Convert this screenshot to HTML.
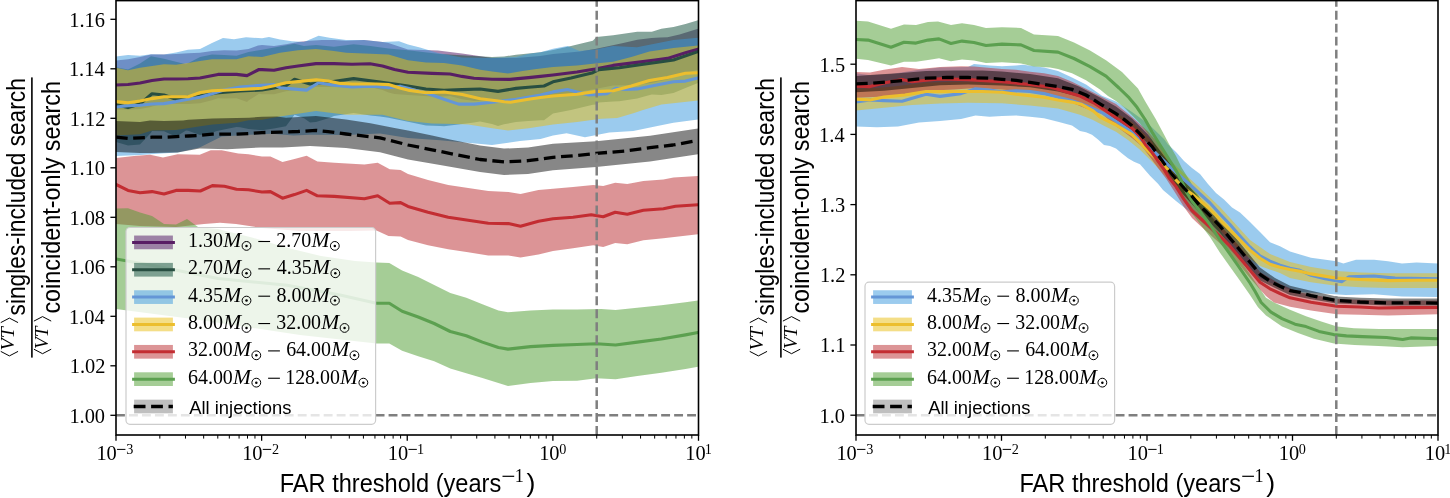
<!DOCTYPE html><html><head><meta charset="utf-8"><style>html,body{margin:0;padding:0;background:#fff;overflow:hidden;}svg{display:block;will-change:transform;}</style></head><body>
<svg width="1450" height="498" viewBox="0 0 1450 498">
<rect width="1450" height="498" fill="#fff"/>
<clipPath id="cl"><rect x="116.00" y="0.5" width="582.50" height="434.5"/></clipPath>
<g clip-path="url(#cl)">
<polygon points="116.0,60.5 128.0,59.3 140.0,57.0 151.0,54.5 164.0,54.5 176.0,53.9 188.0,53.3 200.0,52.7 212.0,50.9 224.0,50.3 236.5,50.5 248.5,49.1 258.0,45.5 262.0,44.9 274.0,46.1 286.0,44.3 298.0,41.9 310.0,40.7 322.0,40.1 334.0,40.1 346.0,40.7 364.0,40.1 382.5,41.9 388.5,43.1 408.0,49.5 438.0,50.5 462.0,53.5 474.0,55.3 492.0,58.0 516.0,58.0 540.0,56.0 553.0,54.0 579.7,51.4 595.0,48.9 609.2,46.1 623.2,42.9 637.3,39.8 651.4,38.0 660.0,37.6 667.5,37.2 679.5,34.5 698.0,28.7 698.0,69.7 685.5,73.0 679.5,74.8 667.5,79.6 660.0,81.1 655.0,82.2 651.4,83.0 637.3,84.9 637.0,84.9 623.2,85.3 613.0,85.6 609.2,86.2 595.0,89.1 579.7,91.7 577.0,92.3 553.0,96.0 540.5,96.9 540.0,96.9 528.5,98.2 516.0,99.6 510.0,100.8 492.0,100.4 474.0,101.1 462.0,99.3 450.0,96.0 438.0,96.7 432.0,96.5 408.0,94.9 394.5,94.1 388.5,92.5 382.5,90.1 370.0,86.9 364.0,87.8 352.0,87.9 346.0,87.3 334.0,87.1 322.0,87.1 316.0,86.8 310.0,88.1 298.0,90.1 286.0,91.3 274.0,94.3 262.0,94.3 259.0,93.7 258.0,94.5 248.5,100.6 247.0,101.9 236.5,98.3 224.0,98.5 218.0,98.2 212.0,100.3 200.0,103.3 188.0,104.1 176.0,104.1 164.0,103.5 152.0,106.5 151.0,106.9 140.0,109.0 128.0,109.7 116.0,109.5" fill="#4b0f60" fill-opacity="0.5" stroke="none"/>
<polygon points="116.0,67.2 128.0,69.6 140.0,63.6 151.0,56.3 164.0,58.7 176.0,61.7 186.0,64.2 200.0,57.0 212.0,54.5 224.0,55.1 236.5,55.7 248.5,52.1 262.0,49.7 294.5,43.7 304.0,46.1 316.0,44.9 334.0,46.7 353.6,44.3 370.4,46.1 388.5,48.5 408.0,50.3 440.0,54.0 474.0,56.0 492.0,57.1 504.0,56.5 516.0,54.7 528.5,53.5 540.5,52.3 553.0,50.0 571.0,46.0 592.8,40.7 596.4,37.1 613.2,35.3 637.3,31.7 651.8,31.7 661.4,28.7 673.5,26.9 685.5,23.9 698.0,20.2 698.0,83.0 685.5,87.9 673.5,93.1 661.4,94.9 651.8,94.5 643.4,96.7 637.3,98.5 619.3,101.2 613.2,101.4 598.8,102.4 596.4,104.6 592.8,104.7 571.0,110.0 553.0,113.6 544.0,120.3 540.5,120.2 528.5,120.9 516.0,122.1 504.0,124.3 498.0,126.0 492.0,124.1 480.0,121.6 474.0,122.4 462.0,123.9 444.0,126.2 440.0,125.9 426.0,125.6 408.0,121.7 394.5,118.9 388.5,117.8 380.0,116.6 370.4,115.4 353.6,112.9 334.0,116.1 330.0,117.7 316.0,121.9 310.0,122.5 304.0,118.2 294.5,114.7 286.0,126.3 274.0,128.5 262.0,130.3 248.5,129.1 240.0,127.3 236.5,126.9 224.0,129.6 216.0,131.3 212.0,133.0 200.0,135.0 188.0,130.8 186.0,130.5 176.0,136.7 164.0,131.3 152.0,130.9 151.0,132.8 140.0,144.4 128.0,145.6 116.0,142.0" fill="#0d4c38" fill-opacity="0.5" stroke="none"/>
<polygon points="116.0,56.6 128.0,54.9 140.0,55.7 151.0,54.2 164.0,54.5 176.0,52.5 188.0,49.7 200.0,49.1 212.0,43.1 223.0,38.0 234.0,39.2 246.0,37.3 262.0,38.3 269.0,37.0 280.0,39.5 292.0,41.3 304.0,41.9 318.6,35.8 329.5,37.7 346.0,40.1 364.0,40.1 382.5,41.9 399.0,41.3 408.0,44.5 420.0,47.5 438.0,53.0 462.0,57.5 492.0,58.0 516.0,57.0 528.0,54.0 540.5,52.3 553.0,48.7 567.5,46.1 579.5,51.0 595.0,49.5 613.0,46.1 637.0,47.3 652.0,44.3 673.5,40.1 698.0,37.7 698.0,119.6 673.4,122.8 657.4,126.0 633.3,130.9 609.2,132.5 585.0,137.3 566.6,133.3 553.0,135.4 540.5,139.0 520.0,141.0 492.0,145.0 470.0,143.0 440.0,140.2 408.0,138.0 380.0,133.6 346.0,135.0 310.0,134.8 293.5,135.4 271.4,133.7 249.3,134.8 221.7,136.5 199.7,147.5 177.6,152.5 161.0,153.5 140.0,155.0 116.0,156.0" fill="#3797dd" fill-opacity="0.5" stroke="none"/>
<polygon points="116.0,67.8 128.0,70.2 140.0,67.8 152.0,66.0 164.0,64.2 176.0,64.8 188.0,63.0 200.0,61.1 212.0,59.3 236.5,59.3 248.5,56.3 262.0,56.9 280.0,52.7 298.0,50.3 316.0,49.1 334.0,50.9 346.3,52.7 358.4,53.3 376.5,53.9 388.5,54.5 408.0,60.3 426.0,62.5 444.0,63.1 462.0,65.5 480.3,69.8 492.3,71.6 508.0,73.4 522.5,71.0 534.5,69.2 553.0,67.0 577.0,65.4 595.0,63.6 613.0,61.8 631.3,57.0 649.4,51.6 673.5,48.0 698.0,45.5 698.0,100.4 661.4,104.6 643.0,110.0 633.3,113.2 617.2,118.0 601.0,118.8 577.0,122.0 553.0,124.6 528.5,128.2 508.0,130.6 492.3,128.2 468.2,124.6 456.2,124.0 432.0,123.4 408.0,121.0 382.5,114.8 346.3,114.8 316.0,111.1 280.0,116.6 262.0,119.7 248.5,120.3 236.5,122.7 212.4,124.5 200.3,126.3 176.0,130.0 152.0,130.5 140.0,134.2 116.0,135.4" fill="#e9bd0f" fill-opacity="0.5" stroke="none"/>
<polygon points="116.0,157.9 134.0,156.0 150.0,154.7 163.0,157.5 177.6,154.2 199.7,154.7 210.7,150.3 221.7,150.3 238.3,153.6 248.5,154.3 262.0,156.6 270.4,156.6 282.5,162.0 294.5,159.0 306.6,155.8 317.4,161.4 334.3,162.7 364.4,164.5 377.7,162.7 389.7,169.3 400.6,169.9 408.0,174.0 428.0,180.0 448.2,185.0 468.2,188.1 488.3,191.1 508.4,192.1 520.5,194.1 538.5,190.1 553.0,188.8 573.0,187.1 593.2,185.1 603.2,186.1 615.2,182.7 627.3,184.1 643.4,181.0 663.4,179.5 673.5,177.4 698.0,176.0 698.0,234.3 663.4,238.3 643.4,240.3 627.3,244.3 615.2,242.9 603.2,246.9 593.2,245.3 573.0,248.3 553.0,251.0 538.5,254.4 520.5,257.4 508.4,255.4 488.3,255.4 468.2,252.3 448.2,249.3 428.0,245.3 408.0,240.0 400.6,236.6 388.5,236.0 376.5,230.5 350.0,231.0 300.0,231.0 262.0,228.0 236.0,224.0 220.0,222.7 204.0,224.0 176.0,227.0 140.0,226.0 116.0,224.0" fill="#b9292d" fill-opacity="0.5" stroke="none"/>
<polygon points="116.0,208.5 128.0,208.3 140.0,212.5 152.0,216.1 164.0,223.9 176.0,224.5 187.0,219.1 198.0,227.0 218.0,229.0 252.0,237.5 287.0,247.8 321.0,256.0 355.0,261.0 376.4,262.5 389.3,263.1 402.1,270.5 418.2,276.9 434.2,285.0 450.3,293.0 466.3,297.8 482.4,304.2 498.4,310.6 508.0,312.2 530.5,310.6 553.0,309.5 577.1,309.4 601.2,308.9 615.6,310.1 637.3,307.7 661.4,305.3 685.5,302.2 698.0,300.5 698.0,366.7 685.5,369.1 661.4,372.7 637.3,375.9 615.6,379.2 596.4,378.3 577.1,380.7 553.0,381.1 530.5,382.9 508.0,386.1 498.4,382.9 482.4,378.0 466.3,373.2 450.3,368.4 434.2,361.3 418.2,356.2 402.1,350.8 389.3,343.4 376.4,343.4 300.0,335.0 200.0,320.0 116.0,309.0" fill="#4b9b2d" fill-opacity="0.5" stroke="none"/>
<polygon points="116.0,121.0 140.0,122.1 150.0,120.5 164.0,121.0 183.0,120.5 188.3,119.7 212.4,118.5 236.5,117.9 249.0,117.7 262.0,116.7 277.0,116.6 286.0,117.8 316.0,116.0 346.0,119.6 370.4,123.2 394.5,128.0 408.0,130.6 432.0,135.4 450.0,139.6 480.0,145.5 504.0,148.6 528.0,147.5 553.0,143.7 596.0,141.3 650.0,135.7 698.0,128.5 698.0,154.2 650.0,161.4 596.0,167.0 553.0,170.2 528.0,174.0 504.0,175.0 480.0,172.0 440.0,165.0 408.0,159.5 380.0,152.3 346.0,148.0 310.0,145.9 282.5,147.5 260.4,147.5 227.3,149.2 199.7,148.6 177.6,152.5 150.0,153.0 140.0,153.0 116.0,152.0" fill="#000000" fill-opacity="0.47" stroke="none"/>
<polyline points="116.0,85.0 128.0,84.5 140.0,83.0 152.0,80.5 164.0,79.0 176.0,79.0 188.0,78.7 200.0,78.0 218.0,74.4 236.5,74.4 247.0,75.6 259.0,69.5 262.0,69.6 274.0,70.2 286.0,67.8 298.0,66.0 316.0,63.6 334.0,63.6 352.0,64.2 370.0,63.8 382.5,66.0 394.5,69.6 408.0,72.2 432.0,73.4 450.0,74.0 462.0,76.4 474.0,78.2 492.0,79.2 510.0,79.4 528.5,77.6 540.5,76.4 553.0,75.0 577.0,72.0 595.0,69.0 613.0,65.4 637.0,62.4 655.0,60.0 667.5,58.4 685.5,52.8 698.0,49.2" fill="none" stroke="#581e64" stroke-width="3.10" stroke-linejoin="round" stroke-linecap="round"/>
<polyline points="116.0,104.6 128.0,107.6 140.0,104.0 152.0,93.7 164.0,95.0 176.0,99.2 188.0,97.0 200.0,96.0 216.0,93.0 240.0,91.0 262.0,90.0 274.0,88.0 286.0,85.8 294.5,79.2 310.0,84.0 330.0,82.0 353.6,78.6 380.0,82.0 394.5,84.0 408.0,86.0 426.0,89.0 444.0,90.2 462.0,89.6 480.0,89.0 498.0,91.4 516.0,88.4 528.5,87.2 544.0,86.0 553.0,81.8 571.0,78.0 592.8,72.7 598.8,69.6 619.3,67.8 643.4,64.2 661.4,61.8 673.5,60.0 698.0,51.6" fill="none" stroke="#284e41" stroke-width="3.10" stroke-linejoin="round" stroke-linecap="round"/>
<polyline points="116.0,107.0 128.0,105.8 140.0,105.2 152.0,104.0 164.0,103.6 176.0,101.6 188.0,99.2 200.0,97.3 212.0,93.7 224.0,90.0 240.0,87.0 262.0,85.2 274.0,84.6 280.0,87.7 292.0,88.9 306.6,90.1 318.6,82.8 334.0,85.2 352.0,87.0 364.0,86.4 376.5,86.4 388.5,87.7 400.6,86.4 408.0,88.3 432.0,95.0 444.0,99.3 458.6,104.1 474.3,104.1 492.3,102.3 516.4,99.3 540.5,95.0 553.0,91.9 567.5,89.5 577.0,91.9 589.0,95.0 607.0,93.7 615.7,88.3 625.3,89.5 637.3,88.9 655.4,85.3 673.5,81.7 685.5,81.1 698.0,78.0" fill="none" stroke="#6496d6" stroke-width="3.10" stroke-linejoin="round" stroke-linecap="round"/>
<polyline points="116.0,101.6 128.0,102.8 140.0,101.0 152.0,98.6 164.0,96.7 176.0,96.7 188.3,96.7 200.3,92.5 212.4,90.7 230.0,90.0 262.0,88.3 274.0,85.8 286.0,82.8 298.0,81.6 316.2,79.8 328.3,81.0 340.3,83.4 352.4,84.0 376.5,84.0 388.5,84.6 400.6,88.3 408.0,90.1 426.0,92.7 444.0,92.0 462.2,94.5 480.3,98.7 504.4,101.7 510.4,102.3 528.5,99.3 540.5,97.5 553.0,96.0 577.0,94.3 595.0,91.6 613.2,90.7 631.3,85.9 649.4,80.5 667.5,77.5 685.5,73.3 698.0,72.7" fill="none" stroke="#ecbe2d" stroke-width="3.10" stroke-linejoin="round" stroke-linecap="round"/>
<polyline points="116.0,184.4 128.0,190.4 140.0,192.8 152.0,191.6 164.0,194.0 176.0,190.4 188.0,190.4 200.3,191.0 212.4,185.6 224.4,186.2 236.5,189.2 248.5,189.8 262.0,192.0 270.4,191.6 282.5,198.2 294.5,194.6 306.6,190.4 317.4,195.8 334.3,196.4 364.4,198.8 377.7,195.8 389.7,203.2 400.6,202.6 408.0,206.4 428.0,212.2 448.2,217.2 468.2,220.2 488.3,223.2 508.4,223.6 520.5,226.2 538.5,221.2 553.0,218.8 573.0,217.2 591.2,214.8 603.2,216.8 615.2,212.2 627.3,214.2 643.4,210.2 663.4,208.8 675.5,206.2 698.0,204.8" fill="none" stroke="#c32d32" stroke-width="3.10" stroke-linejoin="round" stroke-linecap="round"/>
<polyline points="116.0,259.0 150.0,265.0 218.0,278.5 287.0,285.3 340.0,295.0 376.4,303.2 389.3,303.2 402.1,311.3 418.2,317.0 434.2,323.5 450.3,331.5 466.3,335.7 482.4,342.1 498.4,347.5 508.0,349.1 530.5,346.6 553.0,345.4 577.1,344.5 596.4,343.8 615.6,345.0 637.3,342.1 661.4,339.0 685.5,334.9 698.0,332.5" fill="none" stroke="#5ca050" stroke-width="3.10" stroke-linejoin="round" stroke-linecap="round"/>
<polyline points="116.0,137.2 128.0,138.4 140.0,137.8 152.0,137.2 164.2,137.2 176.2,136.6 188.3,136.0 200.3,135.4 212.4,134.2 236.5,134.2 248.5,133.6 262.0,132.6 280.0,132.2 298.0,131.5 316.0,130.4 328.0,131.6 346.0,134.0 380.0,137.8 408.0,145.0 432.0,149.8 456.0,154.7 480.0,159.5 504.0,161.9 528.0,160.7 553.0,157.3 576.6,155.5 596.0,153.4 624.8,151.0 650.0,147.7 672.9,145.0 698.0,140.5" fill="none" stroke="#000" stroke-width="3.30" stroke-dasharray="11.7,5.55" stroke-linejoin="round"/>
<line x1="116.00" y1="415.30" x2="698.50" y2="415.30" stroke="#7f7f7f" stroke-width="2.5" stroke-dasharray="8.9,4.08"/>
<line x1="596.71" y1="435" x2="596.71" y2="0" stroke="#7f7f7f" stroke-width="2.5" stroke-dasharray="8.9,4.08"/>
</g>
<clipPath id="cr"><rect x="856.00" y="0.5" width="582.00" height="434.5"/></clipPath>
<g clip-path="url(#cr)">
<polygon points="856.0,73.2 870.0,75.3 891.0,74.0 919.0,69.7 940.0,67.6 968.0,66.9 974.0,64.1 989.5,65.5 1002.0,66.2 1016.0,65.5 1023.0,64.8 1044.0,67.6 1058.0,71.1 1072.0,77.5 1086.0,84.5 1102.0,95.7 1116.0,101.5 1132.0,112.0 1148.0,123.4 1164.0,139.0 1168.0,144.5 1176.0,152.0 1184.0,160.9 1192.0,168.0 1200.0,174.0 1208.0,184.0 1216.0,193.0 1224.0,199.4 1232.0,207.5 1240.0,212.5 1250.0,222.1 1260.0,232.1 1270.0,242.2 1280.0,246.2 1290.0,251.5 1300.0,254.5 1311.0,257.7 1336.4,261.2 1343.4,263.4 1356.0,259.8 1374.0,259.8 1388.0,261.2 1402.0,263.4 1416.5,262.6 1438.0,263.4 1438.0,297.1 1402.0,296.4 1374.0,294.3 1346.0,295.0 1300.0,292.0 1280.0,287.0 1260.0,278.0 1240.0,260.0 1220.0,240.0 1200.0,220.0 1176.0,201.0 1163.0,190.0 1158.0,183.8 1150.0,175.8 1140.0,164.2 1134.0,161.8 1128.0,158.2 1122.0,153.4 1116.0,148.6 1110.0,146.1 1104.0,144.9 1098.0,139.5 1092.0,134.7 1086.0,132.3 1080.0,131.1 1072.0,125.5 1058.0,121.8 1044.0,118.3 1030.0,116.8 1016.0,115.4 1002.0,116.1 989.5,116.8 975.5,115.4 961.0,118.9 940.0,121.0 919.0,122.4 898.0,126.6 877.0,127.3 856.0,126.6" fill="#3797dd" fill-opacity="0.5" stroke="none"/>
<polygon points="856.0,88.7 877.0,88.0 898.0,85.9 926.0,82.4 954.0,81.7 982.5,81.7 1002.0,83.1 1030.0,85.5 1058.0,89.5 1081.0,94.0 1100.0,105.0 1116.0,113.0 1132.0,122.0 1152.0,141.0 1176.0,166.0 1200.0,188.0 1220.0,207.0 1250.0,240.0 1270.0,254.0 1290.0,262.0 1311.0,266.9 1336.4,271.1 1360.3,272.5 1388.4,273.2 1438.0,273.2 1438.0,287.9 1388.4,287.9 1360.3,287.2 1336.4,285.8 1311.0,282.3 1290.0,278.1 1280.0,273.0 1260.0,266.0 1240.0,251.0 1220.0,230.0 1200.0,209.0 1176.0,188.0 1160.0,170.0 1150.0,159.8 1140.0,149.8 1128.0,140.1 1116.0,131.7 1104.0,125.7 1092.0,119.6 1080.0,114.8 1058.0,108.4 1030.0,105.6 1002.0,103.2 968.0,102.8 940.0,103.5 912.0,104.9 884.0,107.7 856.0,110.5" fill="#e9bd0f" fill-opacity="0.5" stroke="none"/>
<polygon points="856.0,72.0 870.0,72.5 884.0,69.7 902.0,66.9 919.0,69.0 940.0,66.9 961.0,66.2 974.0,66.5 1002.0,69.0 1016.0,69.7 1030.0,71.8 1044.0,73.2 1058.0,76.1 1072.0,81.7 1086.0,88.7 1100.0,96.0 1116.0,104.0 1132.0,117.0 1148.0,131.4 1164.0,150.0 1180.0,177.0 1200.0,205.0 1220.0,225.0 1240.0,247.0 1260.0,272.0 1280.0,284.0 1300.0,292.5 1336.0,299.0 1388.0,300.5 1438.0,300.5 1438.0,314.3 1388.0,315.4 1360.0,314.7 1336.8,314.2 1311.0,310.4 1290.0,306.7 1274.0,302.5 1266.0,296.1 1260.0,289.5 1250.0,278.0 1240.0,265.5 1230.0,253.5 1220.0,243.5 1210.0,234.5 1200.0,225.5 1192.0,218.0 1184.0,207.0 1176.0,194.0 1166.0,178.5 1158.0,168.0 1150.0,157.0 1142.0,146.5 1132.0,138.0 1116.0,126.0 1102.0,114.0 1086.0,108.4 1072.0,102.8 1058.0,97.2 1030.0,92.2 1002.0,89.6 975.5,88.0 954.0,89.4 926.0,90.8 898.0,95.0 884.0,96.4 856.0,97.8" fill="#b9292d" fill-opacity="0.5" stroke="none"/>
<polygon points="856.0,20.8 868.0,21.4 891.0,28.7 904.0,24.5 916.0,25.1 928.0,22.0 938.0,21.4 951.0,25.1 962.0,23.3 974.0,25.1 986.0,28.1 1002.0,27.2 1021.0,28.0 1034.0,34.5 1058.0,36.1 1074.0,42.5 1090.0,50.5 1106.0,60.2 1122.0,72.0 1138.0,88.5 1145.0,100.9 1155.7,119.0 1164.0,134.5 1169.0,144.1 1176.0,156.1 1182.0,168.2 1188.0,177.8 1200.0,198.0 1215.0,222.0 1230.0,246.2 1250.0,274.3 1266.0,297.7 1274.0,302.5 1290.0,309.7 1306.0,316.2 1322.0,321.8 1337.0,326.6 1354.0,328.2 1379.0,329.0 1403.0,329.0 1438.0,329.0 1438.0,345.9 1402.7,347.2 1378.6,345.9 1354.5,345.1 1334.0,343.5 1314.0,338.7 1298.0,333.0 1282.0,326.6 1266.0,315.4 1258.0,307.3 1250.0,295.0 1240.0,280.8 1230.0,266.7 1220.0,252.7 1210.0,237.0 1205.0,230.5 1199.0,222.5 1192.0,213.5 1187.0,205.5 1181.0,192.5 1174.0,180.6 1166.0,167.5 1158.0,153.3 1148.0,134.0 1140.0,123.4 1132.0,115.3 1124.0,107.3 1116.0,100.9 1108.0,96.0 1100.0,89.6 1086.0,80.3 1072.0,73.3 1058.0,69.0 1050.0,67.4 1034.0,66.6 1021.0,63.4 1002.0,62.2 986.0,63.0 974.0,60.6 962.0,59.4 951.0,61.2 939.0,58.2 928.0,60.0 916.0,61.8 904.0,61.8 891.0,65.4 868.0,60.0 856.0,58.8" fill="#4b9b2d" fill-opacity="0.5" stroke="none"/>
<polygon points="856.0,76.0 877.0,74.6 898.0,73.2 926.0,71.1 954.0,70.4 982.5,70.4 1002.0,71.5 1030.0,74.0 1058.0,78.2 1079.0,86.6 1100.0,97.5 1116.0,106.5 1132.0,118.6 1148.0,134.5 1164.0,156.0 1180.0,176.0 1200.0,198.5 1220.0,219.0 1240.0,243.0 1260.0,267.5 1275.0,278.0 1290.0,285.8 1311.0,290.8 1336.4,296.4 1360.3,297.8 1388.4,298.5 1438.0,298.5 1438.0,305.5 1388.4,305.5 1336.4,303.4 1311.0,299.2 1290.0,295.0 1275.0,288.0 1260.0,280.5 1240.0,257.0 1220.0,233.0 1200.0,213.0 1180.0,191.0 1164.0,171.0 1148.0,149.5 1132.0,133.0 1116.0,120.5 1102.0,108.4 1086.0,98.6 1058.0,91.5 1030.0,87.3 1002.0,85.5 968.0,84.5 940.0,85.2 912.0,88.0 884.0,90.8 856.0,92.2" fill="#000000" fill-opacity="0.47" stroke="none"/>
<polyline points="856.0,102.0 870.0,99.9 884.0,100.6 902.0,101.3 926.0,94.3 940.0,96.4 961.0,93.6 975.5,88.7 989.5,90.1 1002.0,91.8 1016.0,90.8 1030.0,91.5 1044.0,93.6 1058.0,97.2 1072.0,100.7 1086.0,105.6 1102.0,112.6 1116.0,121.0 1132.0,132.0 1148.0,146.0 1164.0,161.0 1176.0,172.5 1192.0,186.5 1200.0,194.0 1210.0,203.0 1220.0,214.0 1230.0,224.5 1240.0,236.0 1250.0,247.0 1260.0,256.0 1270.0,261.2 1280.0,265.3 1290.0,268.3 1300.0,270.3 1311.0,275.3 1325.0,278.8 1342.0,281.6 1349.0,276.7 1374.0,276.0 1395.0,278.1 1438.0,278.8" fill="none" stroke="#6496d6" stroke-width="3.10" stroke-linejoin="round" stroke-linecap="round"/>
<polyline points="856.0,99.2 870.0,99.9 884.0,97.1 905.0,95.0 926.0,91.5 954.0,91.5 982.5,91.5 1002.0,92.2 1016.0,94.3 1030.0,95.7 1044.0,97.2 1058.0,100.0 1072.0,102.1 1081.0,104.2 1093.5,111.2 1100.0,117.0 1116.0,125.0 1132.0,134.6 1140.0,142.5 1146.0,148.9 1152.0,154.9 1166.5,168.2 1171.3,173.0 1176.0,180.0 1184.0,188.2 1192.0,194.0 1200.0,200.5 1208.0,207.5 1216.0,215.5 1220.0,220.1 1230.0,230.1 1240.0,240.2 1250.0,250.2 1260.0,258.2 1270.0,264.3 1280.0,267.3 1290.0,269.5 1300.0,271.3 1311.0,273.9 1336.4,278.1 1360.3,279.5 1388.4,280.6 1416.5,280.2 1438.0,280.2" fill="none" stroke="#ecbe2d" stroke-width="3.10" stroke-linejoin="round" stroke-linecap="round"/>
<polyline points="856.0,86.2 870.0,86.6 884.0,83.1 902.0,79.6 912.0,81.7 926.0,80.3 940.0,78.9 968.0,79.6 1002.0,81.7 1030.0,84.5 1051.0,87.3 1065.0,91.5 1079.0,95.7 1093.5,102.8 1100.0,107.0 1116.0,117.8 1132.0,128.2 1140.0,136.5 1146.0,145.3 1152.0,152.5 1158.0,161.0 1164.0,169.4 1169.0,177.8 1176.0,186.6 1184.0,199.4 1192.0,210.5 1200.0,218.0 1210.0,227.0 1220.0,236.1 1230.0,246.2 1240.0,258.2 1250.0,270.3 1260.0,282.3 1270.0,288.8 1280.0,293.5 1290.0,297.8 1311.0,302.3 1336.8,306.3 1360.0,307.0 1378.6,308.0 1402.0,307.6 1438.0,307.5" fill="none" stroke="#c32d32" stroke-width="3.10" stroke-linejoin="round" stroke-linecap="round"/>
<polyline points="856.0,39.5 868.0,40.1 891.0,47.3 904.0,42.3 916.0,43.1 928.0,40.1 939.0,38.9 951.0,43.5 962.0,41.1 974.0,42.5 986.0,45.5 1002.0,44.1 1021.0,44.9 1034.0,50.5 1058.0,52.1 1074.0,58.5 1090.0,66.6 1106.0,76.2 1119.0,88.0 1129.0,97.7 1137.0,107.3 1145.4,120.0 1152.0,132.0 1158.0,141.7 1164.0,151.3 1170.0,161.0 1176.0,170.6 1181.0,180.0 1187.0,193.0 1192.0,201.0 1199.0,210.0 1205.0,218.0 1210.0,224.5 1220.0,240.2 1230.0,254.2 1240.0,268.3 1250.0,283.0 1255.0,291.2 1261.2,302.5 1271.0,312.1 1282.0,318.6 1295.0,324.2 1306.0,326.6 1319.0,331.4 1333.6,334.6 1346.4,335.9 1362.5,336.6 1386.6,337.5 1402.7,339.5 1410.7,337.9 1438.0,338.7" fill="none" stroke="#5ca050" stroke-width="3.10" stroke-linejoin="round" stroke-linecap="round"/>
<polyline points="856.0,83.8 873.0,83.1 891.0,81.7 905.0,80.3 926.0,78.2 947.0,77.5 968.0,77.5 989.5,78.2 1002.0,79.3 1016.0,80.3 1030.0,82.4 1044.0,84.5 1058.0,86.6 1072.0,89.4 1086.0,95.0 1100.0,103.8 1108.0,108.9 1116.0,113.7 1124.0,119.4 1132.0,125.8 1140.0,133.8 1146.0,140.5 1152.0,146.5 1158.0,154.9 1164.0,163.4 1170.0,171.8 1176.0,179.2 1184.0,188.2 1192.0,196.2 1200.0,205.9 1210.0,215.5 1220.0,226.1 1230.0,238.2 1240.0,250.2 1250.0,262.2 1260.0,274.3 1270.0,281.3 1280.0,286.3 1290.0,290.6 1300.0,292.4 1311.0,295.7 1336.4,300.4 1360.0,302.0 1388.0,303.0 1416.5,302.7 1438.0,303.2" fill="none" stroke="#000" stroke-width="3.30" stroke-dasharray="11.7,5.55" stroke-linejoin="round"/>
<line x1="856.00" y1="415.20" x2="1438.00" y2="415.20" stroke="#7f7f7f" stroke-width="2.5" stroke-dasharray="8.9,4.08"/>
<line x1="1336.30" y1="435" x2="1336.30" y2="0" stroke="#7f7f7f" stroke-width="2.5" stroke-dasharray="8.9,4.08"/>
</g>
<rect x="126.00" y="227.50" width="249.60" height="196.80" rx="4" ry="4" fill="#fff" fill-opacity="0.8" stroke="#cccccc" stroke-width="1.2"/>
<rect x="134.10" y="235.55" width="38.8" height="13.7" fill="#4b0f60" fill-opacity="0.5"/>
<line x1="133.60" y1="242.40" x2="173.40" y2="242.40" stroke="#581e64" stroke-width="3.0" stroke-linecap="square"/>
<text x="188.00" y="246.80" font-size="20.40" font-family='"Liberation Serif", serif' textLength="35.00" lengthAdjust="spacingAndGlyphs" fill="#000">1.30</text>
<text x="223.25" y="246.80" font-size="20.40" font-family='"Liberation Serif", serif' font-style="italic" textLength="17.96" lengthAdjust="spacingAndGlyphs" fill="#000">M</text>
<circle cx="246.50" cy="245.90" r="4.40" fill="none" stroke="#000" stroke-width="1.0"/><circle cx="246.50" cy="245.90" r="1.25" fill="#000"/>
<line x1="258.30" y1="241.50" x2="270.10" y2="241.50" stroke="#000" stroke-width="1.1"/>
<text x="276.32" y="246.80" font-size="20.40" font-family='"Liberation Serif", serif' textLength="35.00" lengthAdjust="spacingAndGlyphs" fill="#000">2.70</text>
<text x="311.57" y="246.80" font-size="20.40" font-family='"Liberation Serif", serif' font-style="italic" textLength="17.96" lengthAdjust="spacingAndGlyphs" fill="#000">M</text>
<circle cx="334.82" cy="245.90" r="4.40" fill="none" stroke="#000" stroke-width="1.0"/><circle cx="334.82" cy="245.90" r="1.25" fill="#000"/>
<rect x="134.10" y="262.90" width="38.8" height="13.7" fill="#0d4c38" fill-opacity="0.5"/>
<line x1="133.60" y1="269.75" x2="173.40" y2="269.75" stroke="#284e41" stroke-width="3.0" stroke-linecap="square"/>
<text x="188.00" y="274.15" font-size="20.40" font-family='"Liberation Serif", serif' textLength="35.00" lengthAdjust="spacingAndGlyphs" fill="#000">2.70</text>
<text x="223.25" y="274.15" font-size="20.40" font-family='"Liberation Serif", serif' font-style="italic" textLength="17.96" lengthAdjust="spacingAndGlyphs" fill="#000">M</text>
<circle cx="246.50" cy="273.25" r="4.40" fill="none" stroke="#000" stroke-width="1.0"/><circle cx="246.50" cy="273.25" r="1.25" fill="#000"/>
<line x1="258.30" y1="268.85" x2="270.10" y2="268.85" stroke="#000" stroke-width="1.1"/>
<text x="276.81" y="274.15" font-size="20.40" font-family='"Liberation Serif", serif' textLength="35.00" lengthAdjust="spacingAndGlyphs" fill="#000">4.35</text>
<text x="312.06" y="274.15" font-size="20.40" font-family='"Liberation Serif", serif' font-style="italic" textLength="17.96" lengthAdjust="spacingAndGlyphs" fill="#000">M</text>
<circle cx="335.31" cy="273.25" r="4.40" fill="none" stroke="#000" stroke-width="1.0"/><circle cx="335.31" cy="273.25" r="1.25" fill="#000"/>
<rect x="134.10" y="290.25" width="38.8" height="13.7" fill="#3797dd" fill-opacity="0.5"/>
<line x1="133.60" y1="297.10" x2="173.40" y2="297.10" stroke="#6496d6" stroke-width="3.0" stroke-linecap="square"/>
<text x="188.00" y="301.50" font-size="20.40" font-family='"Liberation Serif", serif' textLength="35.00" lengthAdjust="spacingAndGlyphs" fill="#000">4.35</text>
<text x="223.25" y="301.50" font-size="20.40" font-family='"Liberation Serif", serif' font-style="italic" textLength="17.96" lengthAdjust="spacingAndGlyphs" fill="#000">M</text>
<circle cx="246.50" cy="300.60" r="4.40" fill="none" stroke="#000" stroke-width="1.0"/><circle cx="246.50" cy="300.60" r="1.25" fill="#000"/>
<line x1="258.30" y1="296.20" x2="270.10" y2="296.20" stroke="#000" stroke-width="1.1"/>
<text x="276.44" y="301.50" font-size="20.40" font-family='"Liberation Serif", serif' textLength="35.00" lengthAdjust="spacingAndGlyphs" fill="#000">8.00</text>
<text x="311.69" y="301.50" font-size="20.40" font-family='"Liberation Serif", serif' font-style="italic" textLength="17.96" lengthAdjust="spacingAndGlyphs" fill="#000">M</text>
<circle cx="334.94" cy="300.60" r="4.40" fill="none" stroke="#000" stroke-width="1.0"/><circle cx="334.94" cy="300.60" r="1.25" fill="#000"/>
<rect x="134.10" y="317.60" width="38.8" height="13.7" fill="#e9bd0f" fill-opacity="0.5"/>
<line x1="133.60" y1="324.45" x2="173.40" y2="324.45" stroke="#ecbe2d" stroke-width="3.0" stroke-linecap="square"/>
<text x="188.00" y="328.85" font-size="20.40" font-family='"Liberation Serif", serif' textLength="35.00" lengthAdjust="spacingAndGlyphs" fill="#000">8.00</text>
<text x="223.25" y="328.85" font-size="20.40" font-family='"Liberation Serif", serif' font-style="italic" textLength="17.96" lengthAdjust="spacingAndGlyphs" fill="#000">M</text>
<circle cx="246.50" cy="327.95" r="4.40" fill="none" stroke="#000" stroke-width="1.0"/><circle cx="246.50" cy="327.95" r="1.25" fill="#000"/>
<line x1="258.30" y1="323.55" x2="270.10" y2="323.55" stroke="#000" stroke-width="1.1"/>
<text x="276.25" y="328.85" font-size="20.40" font-family='"Liberation Serif", serif' textLength="44.80" lengthAdjust="spacingAndGlyphs" fill="#000">32.00</text>
<text x="321.30" y="328.85" font-size="20.40" font-family='"Liberation Serif", serif' font-style="italic" textLength="17.96" lengthAdjust="spacingAndGlyphs" fill="#000">M</text>
<circle cx="344.55" cy="327.95" r="4.40" fill="none" stroke="#000" stroke-width="1.0"/><circle cx="344.55" cy="327.95" r="1.25" fill="#000"/>
<rect x="134.10" y="344.95" width="38.8" height="13.7" fill="#b9292d" fill-opacity="0.5"/>
<line x1="133.60" y1="351.80" x2="173.40" y2="351.80" stroke="#c32d32" stroke-width="3.0" stroke-linecap="square"/>
<text x="188.00" y="356.20" font-size="20.40" font-family='"Liberation Serif", serif' textLength="44.80" lengthAdjust="spacingAndGlyphs" fill="#000">32.00</text>
<text x="233.05" y="356.20" font-size="20.40" font-family='"Liberation Serif", serif' font-style="italic" textLength="17.96" lengthAdjust="spacingAndGlyphs" fill="#000">M</text>
<circle cx="256.30" cy="355.30" r="4.40" fill="none" stroke="#000" stroke-width="1.0"/><circle cx="256.30" cy="355.30" r="1.25" fill="#000"/>
<line x1="268.10" y1="350.90" x2="279.90" y2="350.90" stroke="#000" stroke-width="1.1"/>
<text x="286.14" y="356.20" font-size="20.40" font-family='"Liberation Serif", serif' textLength="44.80" lengthAdjust="spacingAndGlyphs" fill="#000">64.00</text>
<text x="331.20" y="356.20" font-size="20.40" font-family='"Liberation Serif", serif' font-style="italic" textLength="17.96" lengthAdjust="spacingAndGlyphs" fill="#000">M</text>
<circle cx="354.44" cy="355.30" r="4.40" fill="none" stroke="#000" stroke-width="1.0"/><circle cx="354.44" cy="355.30" r="1.25" fill="#000"/>
<rect x="134.10" y="372.30" width="38.8" height="13.7" fill="#4b9b2d" fill-opacity="0.5"/>
<line x1="133.60" y1="379.15" x2="173.40" y2="379.15" stroke="#5ca050" stroke-width="3.0" stroke-linecap="square"/>
<text x="188.00" y="383.55" font-size="20.40" font-family='"Liberation Serif", serif' textLength="44.80" lengthAdjust="spacingAndGlyphs" fill="#000">64.00</text>
<text x="233.05" y="383.55" font-size="20.40" font-family='"Liberation Serif", serif' font-style="italic" textLength="17.96" lengthAdjust="spacingAndGlyphs" fill="#000">M</text>
<circle cx="256.30" cy="382.65" r="4.40" fill="none" stroke="#000" stroke-width="1.0"/><circle cx="256.30" cy="382.65" r="1.25" fill="#000"/>
<line x1="268.10" y1="378.25" x2="279.90" y2="378.25" stroke="#000" stroke-width="1.1"/>
<text x="285.25" y="383.55" font-size="20.40" font-family='"Liberation Serif", serif' textLength="54.60" lengthAdjust="spacingAndGlyphs" fill="#000">128.00</text>
<text x="340.11" y="383.55" font-size="20.40" font-family='"Liberation Serif", serif' font-style="italic" textLength="17.96" lengthAdjust="spacingAndGlyphs" fill="#000">M</text>
<circle cx="363.35" cy="382.65" r="4.40" fill="none" stroke="#000" stroke-width="1.0"/><circle cx="363.35" cy="382.65" r="1.25" fill="#000"/>
<rect x="134.10" y="399.65" width="38.8" height="13.7" fill="#000000" fill-opacity="0.25"/>
<line x1="133.70" y1="406.50" x2="172.90" y2="406.50" stroke="#000" stroke-width="3.4" stroke-dasharray="11.8,5.6"/>
<text x="189.26" y="413.60" font-size="18.90" font-family='"Liberation Sans", sans-serif' textLength="102.10" lengthAdjust="spacingAndGlyphs" fill="#000">All injections</text>
<rect x="865.00" y="282.20" width="249.60" height="142.10" rx="4" ry="4" fill="#fff" fill-opacity="0.8" stroke="#cccccc" stroke-width="1.2"/>
<rect x="873.10" y="290.25" width="38.8" height="13.7" fill="#3797dd" fill-opacity="0.5"/>
<line x1="872.60" y1="297.10" x2="912.40" y2="297.10" stroke="#6496d6" stroke-width="3.0" stroke-linecap="square"/>
<text x="927.00" y="301.50" font-size="20.40" font-family='"Liberation Serif", serif' textLength="35.00" lengthAdjust="spacingAndGlyphs" fill="#000">4.35</text>
<text x="962.25" y="301.50" font-size="20.40" font-family='"Liberation Serif", serif' font-style="italic" textLength="17.96" lengthAdjust="spacingAndGlyphs" fill="#000">M</text>
<circle cx="985.50" cy="300.60" r="4.40" fill="none" stroke="#000" stroke-width="1.0"/><circle cx="985.50" cy="300.60" r="1.25" fill="#000"/>
<line x1="997.30" y1="296.20" x2="1009.10" y2="296.20" stroke="#000" stroke-width="1.1"/>
<text x="1015.44" y="301.50" font-size="20.40" font-family='"Liberation Serif", serif' textLength="35.00" lengthAdjust="spacingAndGlyphs" fill="#000">8.00</text>
<text x="1050.69" y="301.50" font-size="20.40" font-family='"Liberation Serif", serif' font-style="italic" textLength="17.96" lengthAdjust="spacingAndGlyphs" fill="#000">M</text>
<circle cx="1073.94" cy="300.60" r="4.40" fill="none" stroke="#000" stroke-width="1.0"/><circle cx="1073.94" cy="300.60" r="1.25" fill="#000"/>
<rect x="873.10" y="317.60" width="38.8" height="13.7" fill="#e9bd0f" fill-opacity="0.5"/>
<line x1="872.60" y1="324.45" x2="912.40" y2="324.45" stroke="#ecbe2d" stroke-width="3.0" stroke-linecap="square"/>
<text x="927.00" y="328.85" font-size="20.40" font-family='"Liberation Serif", serif' textLength="35.00" lengthAdjust="spacingAndGlyphs" fill="#000">8.00</text>
<text x="962.25" y="328.85" font-size="20.40" font-family='"Liberation Serif", serif' font-style="italic" textLength="17.96" lengthAdjust="spacingAndGlyphs" fill="#000">M</text>
<circle cx="985.50" cy="327.95" r="4.40" fill="none" stroke="#000" stroke-width="1.0"/><circle cx="985.50" cy="327.95" r="1.25" fill="#000"/>
<line x1="997.30" y1="323.55" x2="1009.10" y2="323.55" stroke="#000" stroke-width="1.1"/>
<text x="1015.25" y="328.85" font-size="20.40" font-family='"Liberation Serif", serif' textLength="44.80" lengthAdjust="spacingAndGlyphs" fill="#000">32.00</text>
<text x="1060.30" y="328.85" font-size="20.40" font-family='"Liberation Serif", serif' font-style="italic" textLength="17.96" lengthAdjust="spacingAndGlyphs" fill="#000">M</text>
<circle cx="1083.55" cy="327.95" r="4.40" fill="none" stroke="#000" stroke-width="1.0"/><circle cx="1083.55" cy="327.95" r="1.25" fill="#000"/>
<rect x="873.10" y="344.95" width="38.8" height="13.7" fill="#b9292d" fill-opacity="0.5"/>
<line x1="872.60" y1="351.80" x2="912.40" y2="351.80" stroke="#c32d32" stroke-width="3.0" stroke-linecap="square"/>
<text x="927.00" y="356.20" font-size="20.40" font-family='"Liberation Serif", serif' textLength="44.80" lengthAdjust="spacingAndGlyphs" fill="#000">32.00</text>
<text x="972.05" y="356.20" font-size="20.40" font-family='"Liberation Serif", serif' font-style="italic" textLength="17.96" lengthAdjust="spacingAndGlyphs" fill="#000">M</text>
<circle cx="995.30" cy="355.30" r="4.40" fill="none" stroke="#000" stroke-width="1.0"/><circle cx="995.30" cy="355.30" r="1.25" fill="#000"/>
<line x1="1007.10" y1="350.90" x2="1018.90" y2="350.90" stroke="#000" stroke-width="1.1"/>
<text x="1025.14" y="356.20" font-size="20.40" font-family='"Liberation Serif", serif' textLength="44.80" lengthAdjust="spacingAndGlyphs" fill="#000">64.00</text>
<text x="1070.20" y="356.20" font-size="20.40" font-family='"Liberation Serif", serif' font-style="italic" textLength="17.96" lengthAdjust="spacingAndGlyphs" fill="#000">M</text>
<circle cx="1093.44" cy="355.30" r="4.40" fill="none" stroke="#000" stroke-width="1.0"/><circle cx="1093.44" cy="355.30" r="1.25" fill="#000"/>
<rect x="873.10" y="372.30" width="38.8" height="13.7" fill="#4b9b2d" fill-opacity="0.5"/>
<line x1="872.60" y1="379.15" x2="912.40" y2="379.15" stroke="#5ca050" stroke-width="3.0" stroke-linecap="square"/>
<text x="927.00" y="383.55" font-size="20.40" font-family='"Liberation Serif", serif' textLength="44.80" lengthAdjust="spacingAndGlyphs" fill="#000">64.00</text>
<text x="972.05" y="383.55" font-size="20.40" font-family='"Liberation Serif", serif' font-style="italic" textLength="17.96" lengthAdjust="spacingAndGlyphs" fill="#000">M</text>
<circle cx="995.30" cy="382.65" r="4.40" fill="none" stroke="#000" stroke-width="1.0"/><circle cx="995.30" cy="382.65" r="1.25" fill="#000"/>
<line x1="1007.10" y1="378.25" x2="1018.90" y2="378.25" stroke="#000" stroke-width="1.1"/>
<text x="1024.25" y="383.55" font-size="20.40" font-family='"Liberation Serif", serif' textLength="54.60" lengthAdjust="spacingAndGlyphs" fill="#000">128.00</text>
<text x="1079.11" y="383.55" font-size="20.40" font-family='"Liberation Serif", serif' font-style="italic" textLength="17.96" lengthAdjust="spacingAndGlyphs" fill="#000">M</text>
<circle cx="1102.35" cy="382.65" r="4.40" fill="none" stroke="#000" stroke-width="1.0"/><circle cx="1102.35" cy="382.65" r="1.25" fill="#000"/>
<rect x="873.10" y="399.65" width="38.8" height="13.7" fill="#000000" fill-opacity="0.25"/>
<line x1="872.70" y1="406.50" x2="911.90" y2="406.50" stroke="#000" stroke-width="3.4" stroke-dasharray="11.8,5.6"/>
<text x="928.26" y="413.60" font-size="18.90" font-family='"Liberation Sans", sans-serif' textLength="102.10" lengthAdjust="spacingAndGlyphs" fill="#000">All injections</text>
<rect x="116.00" y="0.6" width="582.50" height="434.4" fill="none" stroke="#000" stroke-width="1.6"/>
<rect x="856.00" y="0.6" width="582.00" height="434.4" fill="none" stroke="#000" stroke-width="1.6"/>
<text x="69.38" y="422.70" font-size="20.40" font-family='"Liberation Serif", serif' fill="#000">1.00</text>
<line x1="110.40" y1="415.30" x2="116.00" y2="415.30" stroke="#000" stroke-width="1.3"/>
<text x="69.73" y="373.20" font-size="20.40" font-family='"Liberation Serif", serif' fill="#000">1.02</text>
<line x1="110.40" y1="365.80" x2="116.00" y2="365.80" stroke="#000" stroke-width="1.3"/>
<text x="68.92" y="323.70" font-size="20.40" font-family='"Liberation Serif", serif' fill="#000">1.04</text>
<line x1="110.40" y1="316.30" x2="116.00" y2="316.30" stroke="#000" stroke-width="1.3"/>
<text x="69.21" y="274.20" font-size="20.40" font-family='"Liberation Serif", serif' fill="#000">1.06</text>
<line x1="110.40" y1="266.80" x2="116.00" y2="266.80" stroke="#000" stroke-width="1.3"/>
<text x="69.38" y="224.70" font-size="20.40" font-family='"Liberation Serif", serif' fill="#000">1.08</text>
<line x1="110.40" y1="217.30" x2="116.00" y2="217.30" stroke="#000" stroke-width="1.3"/>
<text x="69.38" y="175.20" font-size="20.40" font-family='"Liberation Serif", serif' fill="#000">1.10</text>
<line x1="110.40" y1="167.80" x2="116.00" y2="167.80" stroke="#000" stroke-width="1.3"/>
<text x="69.73" y="125.70" font-size="20.40" font-family='"Liberation Serif", serif' fill="#000">1.12</text>
<line x1="110.40" y1="118.30" x2="116.00" y2="118.30" stroke="#000" stroke-width="1.3"/>
<text x="68.92" y="76.20" font-size="20.40" font-family='"Liberation Serif", serif' fill="#000">1.14</text>
<line x1="110.40" y1="68.80" x2="116.00" y2="68.80" stroke="#000" stroke-width="1.3"/>
<text x="69.21" y="26.70" font-size="20.40" font-family='"Liberation Serif", serif' fill="#000">1.16</text>
<line x1="110.40" y1="19.30" x2="116.00" y2="19.30" stroke="#000" stroke-width="1.3"/>
<text x="819.58" y="422.60" font-size="20.40" font-family='"Liberation Serif", serif' fill="#000">1.0</text>
<line x1="850.40" y1="415.20" x2="856.00" y2="415.20" stroke="#000" stroke-width="1.3"/>
<text x="820.03" y="352.40" font-size="20.40" font-family='"Liberation Serif", serif' fill="#000">1.1</text>
<line x1="850.40" y1="345.00" x2="856.00" y2="345.00" stroke="#000" stroke-width="1.3"/>
<text x="819.93" y="282.20" font-size="20.40" font-family='"Liberation Serif", serif' fill="#000">1.2</text>
<line x1="850.40" y1="274.80" x2="856.00" y2="274.80" stroke="#000" stroke-width="1.3"/>
<text x="819.60" y="212.00" font-size="20.40" font-family='"Liberation Serif", serif' fill="#000">1.3</text>
<line x1="850.40" y1="204.60" x2="856.00" y2="204.60" stroke="#000" stroke-width="1.3"/>
<text x="819.12" y="141.80" font-size="20.40" font-family='"Liberation Serif", serif' fill="#000">1.4</text>
<line x1="850.40" y1="134.40" x2="856.00" y2="134.40" stroke="#000" stroke-width="1.3"/>
<text x="819.60" y="71.60" font-size="20.40" font-family='"Liberation Serif", serif' fill="#000">1.5</text>
<line x1="850.40" y1="64.20" x2="856.00" y2="64.20" stroke="#000" stroke-width="1.3"/>
<line x1="116.00" y1="435" x2="116.00" y2="440.8" stroke="#000" stroke-width="1.3"/>
<line x1="159.84" y1="435" x2="159.84" y2="438.6" stroke="#000" stroke-width="1.0"/>
<line x1="185.48" y1="435" x2="185.48" y2="438.6" stroke="#000" stroke-width="1.0"/>
<line x1="203.67" y1="435" x2="203.67" y2="438.6" stroke="#000" stroke-width="1.0"/>
<line x1="217.79" y1="435" x2="217.79" y2="438.6" stroke="#000" stroke-width="1.0"/>
<line x1="229.32" y1="435" x2="229.32" y2="438.6" stroke="#000" stroke-width="1.0"/>
<line x1="239.07" y1="435" x2="239.07" y2="438.6" stroke="#000" stroke-width="1.0"/>
<line x1="247.51" y1="435" x2="247.51" y2="438.6" stroke="#000" stroke-width="1.0"/>
<line x1="254.96" y1="435" x2="254.96" y2="438.6" stroke="#000" stroke-width="1.0"/>
<text x="96.42" y="460.30" font-size="20.40" font-family='"Liberation Serif", serif' fill="#000">10</text>
<line x1="117.04" y1="449.4" x2="125.44" y2="449.4" stroke="#000" stroke-width="1.0"/>
<text x="126.16" y="453.60" font-size="14.20" font-family='"Liberation Serif", serif' fill="#000">3</text>
<line x1="261.62" y1="435" x2="261.62" y2="440.8" stroke="#000" stroke-width="1.3"/>
<line x1="305.46" y1="435" x2="305.46" y2="438.6" stroke="#000" stroke-width="1.0"/>
<line x1="331.11" y1="435" x2="331.11" y2="438.6" stroke="#000" stroke-width="1.0"/>
<line x1="349.30" y1="435" x2="349.30" y2="438.6" stroke="#000" stroke-width="1.0"/>
<line x1="363.41" y1="435" x2="363.41" y2="438.6" stroke="#000" stroke-width="1.0"/>
<line x1="374.94" y1="435" x2="374.94" y2="438.6" stroke="#000" stroke-width="1.0"/>
<line x1="384.69" y1="435" x2="384.69" y2="438.6" stroke="#000" stroke-width="1.0"/>
<line x1="393.14" y1="435" x2="393.14" y2="438.6" stroke="#000" stroke-width="1.0"/>
<line x1="400.59" y1="435" x2="400.59" y2="438.6" stroke="#000" stroke-width="1.0"/>
<text x="242.16" y="460.30" font-size="20.40" font-family='"Liberation Serif", serif' fill="#000">10</text>
<line x1="262.78" y1="449.4" x2="271.18" y2="449.4" stroke="#000" stroke-width="1.0"/>
<text x="271.96" y="453.60" font-size="14.20" font-family='"Liberation Serif", serif' fill="#000">2</text>
<line x1="407.25" y1="435" x2="407.25" y2="440.8" stroke="#000" stroke-width="1.3"/>
<line x1="451.09" y1="435" x2="451.09" y2="438.6" stroke="#000" stroke-width="1.0"/>
<line x1="476.73" y1="435" x2="476.73" y2="438.6" stroke="#000" stroke-width="1.0"/>
<line x1="494.92" y1="435" x2="494.92" y2="438.6" stroke="#000" stroke-width="1.0"/>
<line x1="509.04" y1="435" x2="509.04" y2="438.6" stroke="#000" stroke-width="1.0"/>
<line x1="520.57" y1="435" x2="520.57" y2="438.6" stroke="#000" stroke-width="1.0"/>
<line x1="530.32" y1="435" x2="530.32" y2="438.6" stroke="#000" stroke-width="1.0"/>
<line x1="538.76" y1="435" x2="538.76" y2="438.6" stroke="#000" stroke-width="1.0"/>
<line x1="546.21" y1="435" x2="546.21" y2="438.6" stroke="#000" stroke-width="1.0"/>
<text x="387.82" y="460.30" font-size="20.40" font-family='"Liberation Serif", serif' fill="#000">10</text>
<line x1="408.44" y1="449.4" x2="416.84" y2="449.4" stroke="#000" stroke-width="1.0"/>
<text x="416.99" y="453.60" font-size="14.20" font-family='"Liberation Serif", serif' fill="#000">1</text>
<line x1="552.88" y1="435" x2="552.88" y2="440.8" stroke="#000" stroke-width="1.3"/>
<line x1="596.71" y1="435" x2="596.71" y2="438.6" stroke="#000" stroke-width="1.0"/>
<line x1="622.36" y1="435" x2="622.36" y2="438.6" stroke="#000" stroke-width="1.0"/>
<line x1="640.55" y1="435" x2="640.55" y2="438.6" stroke="#000" stroke-width="1.0"/>
<line x1="654.66" y1="435" x2="654.66" y2="438.6" stroke="#000" stroke-width="1.0"/>
<line x1="666.19" y1="435" x2="666.19" y2="438.6" stroke="#000" stroke-width="1.0"/>
<line x1="675.94" y1="435" x2="675.94" y2="438.6" stroke="#000" stroke-width="1.0"/>
<line x1="684.39" y1="435" x2="684.39" y2="438.6" stroke="#000" stroke-width="1.0"/>
<line x1="691.84" y1="435" x2="691.84" y2="438.6" stroke="#000" stroke-width="1.0"/>
<text x="539.16" y="460.30" font-size="20.40" font-family='"Liberation Serif", serif' fill="#000">10</text>
<text x="559.24" y="453.60" font-size="14.20" font-family='"Liberation Serif", serif' fill="#000">0</text>
<line x1="698.50" y1="435" x2="698.50" y2="440.8" stroke="#000" stroke-width="1.3"/>
<text x="685.29" y="460.30" font-size="20.40" font-family='"Liberation Serif", serif' fill="#000">10</text>
<text x="704.67" y="453.60" font-size="14.20" font-family='"Liberation Serif", serif' fill="#000">1</text>
<line x1="856.00" y1="435" x2="856.00" y2="440.8" stroke="#000" stroke-width="1.3"/>
<line x1="899.80" y1="435" x2="899.80" y2="438.6" stroke="#000" stroke-width="1.0"/>
<line x1="925.42" y1="435" x2="925.42" y2="438.6" stroke="#000" stroke-width="1.0"/>
<line x1="943.60" y1="435" x2="943.60" y2="438.6" stroke="#000" stroke-width="1.0"/>
<line x1="957.70" y1="435" x2="957.70" y2="438.6" stroke="#000" stroke-width="1.0"/>
<line x1="969.22" y1="435" x2="969.22" y2="438.6" stroke="#000" stroke-width="1.0"/>
<line x1="978.96" y1="435" x2="978.96" y2="438.6" stroke="#000" stroke-width="1.0"/>
<line x1="987.40" y1="435" x2="987.40" y2="438.6" stroke="#000" stroke-width="1.0"/>
<line x1="994.84" y1="435" x2="994.84" y2="438.6" stroke="#000" stroke-width="1.0"/>
<text x="836.42" y="460.30" font-size="20.40" font-family='"Liberation Serif", serif' fill="#000">10</text>
<line x1="857.04" y1="449.4" x2="865.44" y2="449.4" stroke="#000" stroke-width="1.0"/>
<text x="866.16" y="453.60" font-size="14.20" font-family='"Liberation Serif", serif' fill="#000">3</text>
<line x1="1001.50" y1="435" x2="1001.50" y2="440.8" stroke="#000" stroke-width="1.3"/>
<line x1="1045.30" y1="435" x2="1045.30" y2="438.6" stroke="#000" stroke-width="1.0"/>
<line x1="1070.92" y1="435" x2="1070.92" y2="438.6" stroke="#000" stroke-width="1.0"/>
<line x1="1089.10" y1="435" x2="1089.10" y2="438.6" stroke="#000" stroke-width="1.0"/>
<line x1="1103.20" y1="435" x2="1103.20" y2="438.6" stroke="#000" stroke-width="1.0"/>
<line x1="1114.72" y1="435" x2="1114.72" y2="438.6" stroke="#000" stroke-width="1.0"/>
<line x1="1124.46" y1="435" x2="1124.46" y2="438.6" stroke="#000" stroke-width="1.0"/>
<line x1="1132.90" y1="435" x2="1132.90" y2="438.6" stroke="#000" stroke-width="1.0"/>
<line x1="1140.34" y1="435" x2="1140.34" y2="438.6" stroke="#000" stroke-width="1.0"/>
<text x="982.03" y="460.30" font-size="20.40" font-family='"Liberation Serif", serif' fill="#000">10</text>
<line x1="1002.66" y1="449.4" x2="1011.06" y2="449.4" stroke="#000" stroke-width="1.0"/>
<text x="1011.83" y="453.60" font-size="14.20" font-family='"Liberation Serif", serif' fill="#000">2</text>
<line x1="1147.00" y1="435" x2="1147.00" y2="440.8" stroke="#000" stroke-width="1.3"/>
<line x1="1190.80" y1="435" x2="1190.80" y2="438.6" stroke="#000" stroke-width="1.0"/>
<line x1="1216.42" y1="435" x2="1216.42" y2="438.6" stroke="#000" stroke-width="1.0"/>
<line x1="1234.60" y1="435" x2="1234.60" y2="438.6" stroke="#000" stroke-width="1.0"/>
<line x1="1248.70" y1="435" x2="1248.70" y2="438.6" stroke="#000" stroke-width="1.0"/>
<line x1="1260.22" y1="435" x2="1260.22" y2="438.6" stroke="#000" stroke-width="1.0"/>
<line x1="1269.96" y1="435" x2="1269.96" y2="438.6" stroke="#000" stroke-width="1.0"/>
<line x1="1278.40" y1="435" x2="1278.40" y2="438.6" stroke="#000" stroke-width="1.0"/>
<line x1="1285.84" y1="435" x2="1285.84" y2="438.6" stroke="#000" stroke-width="1.0"/>
<text x="1127.57" y="460.30" font-size="20.40" font-family='"Liberation Serif", serif' fill="#000">10</text>
<line x1="1148.19" y1="449.4" x2="1156.59" y2="449.4" stroke="#000" stroke-width="1.0"/>
<text x="1156.74" y="453.60" font-size="14.20" font-family='"Liberation Serif", serif' fill="#000">1</text>
<line x1="1292.50" y1="435" x2="1292.50" y2="440.8" stroke="#000" stroke-width="1.3"/>
<line x1="1336.30" y1="435" x2="1336.30" y2="438.6" stroke="#000" stroke-width="1.0"/>
<line x1="1361.92" y1="435" x2="1361.92" y2="438.6" stroke="#000" stroke-width="1.0"/>
<line x1="1380.10" y1="435" x2="1380.10" y2="438.6" stroke="#000" stroke-width="1.0"/>
<line x1="1394.20" y1="435" x2="1394.20" y2="438.6" stroke="#000" stroke-width="1.0"/>
<line x1="1405.72" y1="435" x2="1405.72" y2="438.6" stroke="#000" stroke-width="1.0"/>
<line x1="1415.46" y1="435" x2="1415.46" y2="438.6" stroke="#000" stroke-width="1.0"/>
<line x1="1423.90" y1="435" x2="1423.90" y2="438.6" stroke="#000" stroke-width="1.0"/>
<line x1="1431.34" y1="435" x2="1431.34" y2="438.6" stroke="#000" stroke-width="1.0"/>
<text x="1278.78" y="460.30" font-size="20.40" font-family='"Liberation Serif", serif' fill="#000">10</text>
<text x="1298.87" y="453.60" font-size="14.20" font-family='"Liberation Serif", serif' fill="#000">0</text>
<line x1="1438.00" y1="435" x2="1438.00" y2="440.8" stroke="#000" stroke-width="1.3"/>
<text x="1424.79" y="460.30" font-size="20.40" font-family='"Liberation Serif", serif' fill="#000">10</text>
<text x="1444.17" y="453.60" font-size="14.20" font-family='"Liberation Serif", serif' fill="#000">1</text>
<text x="279.78" y="491.50" font-size="26.70" font-family='"Liberation Sans", sans-serif' textLength="221.47" lengthAdjust="spacingAndGlyphs" fill="#000">FAR threshold (years</text>
<line x1="502.50" y1="476.3" x2="514.20" y2="476.3" stroke="#000" stroke-width="1.2"/>
<text x="514.80" y="482.20" font-size="18.20" font-family='"Liberation Serif", serif' fill="#000">1</text>
<text x="526.54" y="491.50" font-size="26.70" font-family='"Liberation Sans", sans-serif' fill="#000">)</text>
<text x="1019.53" y="491.50" font-size="26.70" font-family='"Liberation Sans", sans-serif' textLength="221.47" lengthAdjust="spacingAndGlyphs" fill="#000">FAR threshold (years</text>
<line x1="1242.25" y1="476.3" x2="1253.95" y2="476.3" stroke="#000" stroke-width="1.2"/>
<text x="1254.55" y="482.20" font-size="18.20" font-family='"Liberation Serif", serif' fill="#000">1</text>
<text x="1266.29" y="491.50" font-size="26.70" font-family='"Liberation Sans", sans-serif' fill="#000">)</text>
<g transform="translate(0.00,0) rotate(-90)">
<polyline points="-351.40,0.75 -355.90,9.40 -351.40,18.05" fill="none" stroke="#000" stroke-width="1.0"/>
<polyline points="-322.60,0.75 -318.10,9.40 -322.60,18.05" fill="none" stroke="#000" stroke-width="1.0"/>
<text x="-350.54" y="14.30" font-size="18.70" font-family='"Liberation Serif", serif' font-style="italic" textLength="23.26" lengthAdjust="spacingAndGlyphs" fill="#000">VT</text>
<text x="-315.43" y="24.80" font-size="26.00" font-family='"Liberation Sans", sans-serif' textLength="237.21" lengthAdjust="spacingAndGlyphs" fill="#000">singles-included search</text>
<polyline points="-349.20,33.90 -353.70,42.55 -349.20,51.20" fill="none" stroke="#000" stroke-width="1.0"/>
<polyline points="-321.10,33.90 -316.60,42.55 -321.10,51.20" fill="none" stroke="#000" stroke-width="1.0"/>
<text x="-349.01" y="48.20" font-size="18.70" font-family='"Liberation Serif", serif' font-style="italic" textLength="22.47" lengthAdjust="spacingAndGlyphs" fill="#000">VT</text>
<text x="-313.59" y="59.50" font-size="26.00" font-family='"Liberation Sans", sans-serif' textLength="232.61" lengthAdjust="spacingAndGlyphs" fill="#000">coincident-only search</text>
</g>
<rect x="31.10" y="77.4" width="1.6" height="280.2" fill="#000"/>
<g transform="translate(749.00,0) rotate(-90)">
<polyline points="-351.40,0.75 -355.90,9.40 -351.40,18.05" fill="none" stroke="#000" stroke-width="1.0"/>
<polyline points="-322.60,0.75 -318.10,9.40 -322.60,18.05" fill="none" stroke="#000" stroke-width="1.0"/>
<text x="-350.54" y="14.30" font-size="18.70" font-family='"Liberation Serif", serif' font-style="italic" textLength="23.26" lengthAdjust="spacingAndGlyphs" fill="#000">VT</text>
<text x="-315.43" y="24.80" font-size="26.00" font-family='"Liberation Sans", sans-serif' textLength="237.21" lengthAdjust="spacingAndGlyphs" fill="#000">singles-included search</text>
<polyline points="-349.20,33.90 -353.70,42.55 -349.20,51.20" fill="none" stroke="#000" stroke-width="1.0"/>
<polyline points="-321.10,33.90 -316.60,42.55 -321.10,51.20" fill="none" stroke="#000" stroke-width="1.0"/>
<text x="-349.01" y="48.20" font-size="18.70" font-family='"Liberation Serif", serif' font-style="italic" textLength="22.47" lengthAdjust="spacingAndGlyphs" fill="#000">VT</text>
<text x="-313.59" y="59.50" font-size="26.00" font-family='"Liberation Sans", sans-serif' textLength="232.61" lengthAdjust="spacingAndGlyphs" fill="#000">coincident-only search</text>
</g>
<rect x="780.10" y="77.4" width="1.6" height="280.2" fill="#000"/>
</svg></body></html>
